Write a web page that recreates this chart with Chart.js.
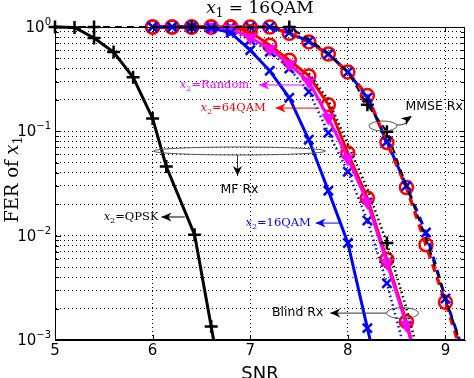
<!DOCTYPE html>
<html>
<head>
<meta charset="utf-8">
<script src="https://cdn.jsdelivr.net/npm/chart.js@4.4.1/dist/chart.umd.min.js"></script>
<style>
	html, body { margin: 0; padding: 0; background: #fff; }
	canvas { display: block; }
</style>
</head>
<body>
<canvas id="graficoFer" width="474" height="378"></canvas>
<script>
// SNR grid shared by most curves
const snr = [5.0, 5.2, 5.4, 5.6, 5.8, 6.0, 6.2, 6.4, 6.6, 6.8, 7.0, 7.2, 7.4, 7.6, 7.8, 8.0, 8.2, 8.4, 8.6, 8.8, 9.0, 9.2]

// MF Rx, x2 = QPSK has its own points
const snrQpskMf = [5.0, 5.2, 5.4, 5.6, 5.8, 6.0, 6.14, 6.43, 6.6, 6.7]
const ferQpskMf = [1, 0.99, 0.785, 0.575, 0.33, 0.133, 0.046, 0.0102, 0.00135, 0.0004]

const ferQpskMmse = [1, 1, 1, 1, 1, 1, 1, 1, 1, 1, 1, 1, 1, 0.76, 0.56, 0.37, 0.18, 0.099, 0.03, 0.0095, 0.0025, 0.0007]
const ferQam16Mmse = [null, null, null, null, null, 1, 1, 1, 1, 1, 1, 1, 0.88, 0.73, 0.55, 0.37, 0.21, 0.08, 0.03, 0.0107, 0.0025, 0.0007]
const ferQam64Mmse = [null, null, null, null, null, 1, 1, 1, 1, 1, 1, 1, 0.87, 0.72, 0.55, 0.37, 0.22, 0.078, 0.029, 0.0082, 0.0023, 0.0006]
const ferQam16Mf = [null, null, null, null, null, 1, 1, 1, 0.98, 0.88, 0.6, 0.38, 0.21, 0.083, 0.027, 0.0085, 0.0013, 0.0002, null, null, null, null]
const ferQam64Mf = [null, null, null, null, null, 1, 1, 1, 1, 1, 0.9, 0.67, 0.48, 0.34, 0.18, 0.062, 0.023, 0.0059, 0.0015, 0.0003, null, null]
const ferRandomMf = [null, null, null, null, null, null, null, null, 1, 0.96, 0.79, 0.62, 0.44, 0.3, 0.135, 0.055, 0.021, 0.0055, 0.0014, 0.0003, null, null]
const ferQam16Blind = [null, null, null, null, null, null, null, 1, 0.99, 0.93, 0.75, 0.58, 0.4, 0.24, 0.097, 0.041, 0.014, 0.0035, 0.0007, null, null, null]
const ferQpskBlind = [null, null, null, null, null, null, null, null, null, null, null, null, null, 0.36, 0.2, 0.075, 0.028, 0.0085, 0.002, 0.0004, null, null]

// axis ticks
const snrTicks = [5, 6, 7, 8, 9]
const ferDecades = [1, 0.1, 0.01, 0.001]

// marker indices for the curves that only show a few markers
const marcasQpskMmse = [2, 7, 12, 16, 17]
const marcasQpskBlind = [17]

function pontos(xs, ys) {
	return xs.map((x, i) => ({ x: x, y: ys[i] }))
}

function serie(fer, xs, cor, dash, largura, forma, raio, marcas) {
	return {
		data: pontos(xs, fer),
		borderColor: cor,
		backgroundColor: "rgba(0,0,0,0)",
		borderWidth: largura,
		borderDash: dash,
		pointStyle: forma,
		pointRadius: marcas ? (c) => (marcas.includes(c.dataIndex) ? raio : 0) : raio,
		pointBorderColor: cor,
		pointBackgroundColor: "rgba(0,0,0,0)",
		pointBorderWidth: 2.5,
		tension: 0,
		clip: { left: 10, top: 10, right: 0, bottom: 0 },
	}
}

var dataSets = [
	serie(ferQpskMf, snrQpskMf, "#000", [], 3, "cross", 6.5),
	serie(ferQpskMmse, snr, "#000", [7, 5], 2, "cross", 6.5, marcasQpskMmse),
	serie(ferQam16Mf, snr, "#0000ff", [], 3, "crossRot", 6.5),
	serie(ferQpskBlind, snr, "#000", [1.5, 3], 2.5, "cross", 6.5, marcasQpskBlind),
	serie(ferRandomMf, snr, "#ff00ff", [], 3, "triangle", 5.5),
	serie(ferQam16Blind, snr, "#0000ff", [1.5, 3], 2.5, "crossRot", 6.5),
	serie(ferQam64Mf, snr, "#ff0000", [], 3, "circle", 6.5),
	serie(ferQam16Mmse, snr, "#0000ff", [8, 6], 3, "crossRot", 6.5),
	serie(ferQam64Mmse, snr, "#ff0000", [8, 6], 3.5, "circle", 6.5),
]
dataSets[4].pointBackgroundColor = "rgba(255,0,255,0.55)"
dataSets[4].pointRotation = 180
dataSets[7].borderDashOffset = 7

// annotations in data units (SNR, FER)
const notas = [
	{ partes: [["x", "i"], ["2", "s"], ["=Random", ""]], cor: "#ff00ff", x: 6.99, y: 0.278, de: 7.56, ate: 7.09 },
	{ partes: [["x", "i"], ["2", "s"], ["=64QAM", ""]], cor: "#ff0000", x: 7.16, y: 0.167, de: 7.71, ate: 7.26 },
	{ partes: [["x", "i"], ["2", "s"], ["=QPSK", ""]], cor: "#000", x: 6.06, y: 0.0151, de: 6.33, ate: 6.09 },
	{ partes: [["x", "i"], ["2", "s"], ["=16QAM", ""]], cor: "#0000ff", x: 7.62, y: 0.0132, de: 7.92, ate: 7.67 },
]

function medeTexto(ctx, partes, tam) {
	let w = 0
	for (const p of partes) {
		ctx.font = fonteParte(p[1], tam)
		w += ctx.measureText(p[0]).width
	}
	return w
}

function fonteParte(tipo, tam) {
	if (tipo == "i") return "italic " + tam + "px 'DejaVu Serif'"
	if (tipo == "s") return Math.round(tam * 0.7) + "px 'DejaVu Serif'"
	return tam + "px 'DejaVu Serif'"
}

function escreve(ctx, partes, x, y, tam, cor, alinha) {
	let w = medeTexto(ctx, partes, tam)
	let cx = alinha == "right" ? x - w : alinha == "center" ? x - w / 2 : x
	ctx.fillStyle = cor
	ctx.textBaseline = "middle"
	ctx.textAlign = "left"
	for (const p of partes) {
		ctx.font = fonteParte(p[1], tam)
		ctx.fillText(p[0], cx, p[1] == "s" ? y + tam * 0.3 : y)
		cx += ctx.measureText(p[0]).width
	}
}

function cabeca(ctx, x, y, ang, cor) {
	ctx.save()
	ctx.translate(x, y)
	ctx.rotate(ang)
	ctx.fillStyle = cor
	ctx.beginPath()
	ctx.moveTo(0, 0)
	ctx.lineTo(-10, -4.5)
	ctx.lineTo(-7, 0)
	ctx.lineTo(-10, 4.5)
	ctx.closePath()
	ctx.fill()
	ctx.restore()
}

function seta(ctx, x1, y1, x2, y2, cor, corLinha) {
	ctx.strokeStyle = corLinha || cor
	ctx.lineWidth = 1
	ctx.beginPath()
	ctx.moveTo(x1, y1)
	ctx.lineTo(x2, y2)
	ctx.stroke()
	cabeca(ctx, x2, y2, Math.atan2(y2 - y1, x2 - x1), cor)
}

function elipse(ctx, x, y, rx, ry) {
	ctx.strokeStyle = "#555"
	ctx.lineWidth = 1
	ctx.beginPath()
	ctx.ellipse(x, y, rx, ry, 0, 0, Math.PI * 2)
	ctx.stroke()
}

const enfeites = {
	id: "enfeites",
	afterDatasetsDraw(chart) {
		const ctx = chart.ctx
		const a = chart.chartArea
		const sx = chart.scales.x
		const sy = chart.scales.y
		ctx.save()

		// frame and inner ticks, matlab style
		ctx.strokeStyle = "#000"
		ctx.lineWidth = 1
		ctx.strokeRect(a.left + 0.5, a.top + 0.5, a.right - a.left - 1, a.bottom - a.top - 1)
		ctx.beginPath()
		for (const t of sy.ticks) {
			let py = Math.round(sy.getPixelForValue(t.value)) + 0.5
			let len = ferDecades.includes(t.value) ? 6 : 4
			ctx.moveTo(a.left, py)
			ctx.lineTo(a.left + len, py)
			ctx.moveTo(a.right, py)
			ctx.lineTo(a.right - len, py)
		}
		for (const v of snrTicks) {
			let px = Math.round(sx.getPixelForValue(v)) + 0.5
			ctx.moveTo(px, a.bottom)
			ctx.lineTo(px, a.bottom - 5)
			ctx.moveTo(px, a.top)
			ctx.lineTo(px, a.top + 5)
		}
		ctx.stroke()

		// y tick labels 10^k
		ctx.fillStyle = "#000"
		ctx.textBaseline = "alphabetic"
		for (const v of ferDecades) {
			let py = sy.getPixelForValue(v)
			let k = Math.round(Math.log10(v))
			let exp = k == 0 ? "0" : "\u2212" + -k
			ctx.font = "10px 'DejaVu Sans'"
			let we = ctx.measureText(exp).width
			ctx.textAlign = "right"
			ctx.fillText(exp, 51, py - 2)
			ctx.font = "15px 'DejaVu Sans'"
			ctx.fillText("10", 51 - we, py + 5)
		}

		// labelled arrows
		for (const n of notas) {
			let py = sy.getPixelForValue(n.y)
			escreve(ctx, n.partes, sx.getPixelForValue(n.x), py, 11.5, n.cor, "right")
			seta(ctx, sx.getPixelForValue(n.de), py, sx.getPixelForValue(n.ate), py, n.cor)
		}

		// MF Rx group
		let mx = sx.getPixelForValue(6.89)
		let my = sy.getPixelForValue(0.0648)
		elipse(ctx, mx, my, 86, 4)
		seta(ctx, mx - 2, my + 4, mx - 2, sy.getPixelForValue(0.0373), "#000", "#333")
		ctx.font = "12.5px 'DejaVu Sans'"
		ctx.fillStyle = "#000"
		ctx.textAlign = "center"
		ctx.textBaseline = "middle"
		ctx.fillText("MF Rx", mx, sy.getPixelForValue(0.0274))

		// MMSE Rx group
		let ex = sx.getPixelForValue(8.36)
		let ey = sy.getPixelForValue(0.1125)
		elipse(ctx, ex, ey, 14, 5)
		let tx = sx.getPixelForValue(8.65)
		let ty = sy.getPixelForValue(0.14)
		ctx.strokeStyle = "#333"
		ctx.beginPath()
		ctx.moveTo(ex + 14, ey - 1)
		ctx.quadraticCurveTo(tx - 4, ey, tx, ty)
		ctx.stroke()
		cabeca(ctx, tx, ty, -Math.PI / 5, "#000")
		ctx.fillStyle = "#000"
		ctx.textAlign = "left"
		ctx.fillText("MMSE Rx", sx.getPixelForValue(8.59), sy.getPixelForValue(0.171))

		// Blind Rx group
		let bx = sx.getPixelForValue(8.56)
		let by = sy.getPixelForValue(0.00181)
		elipse(ctx, bx, by, 16, 5.5)
		seta(ctx, bx - 16, by, sx.getPixelForValue(7.82), by, "#000", "#333")
		ctx.fillStyle = "#000"
		ctx.textAlign = "right"
		ctx.fillText("Blind Rx", sx.getPixelForValue(7.75), by)

		// title and axis labels
		escreve(ctx, [["x", "i"], ["1", "s"], [" = 16QAM", ""]], (a.left + a.right) / 2, 9, 17, "#000", "center")
		ctx.font = "18px 'DejaVu Sans'"
		ctx.fillStyle = "#000"
		ctx.textAlign = "center"
		ctx.textBaseline = "top"
		ctx.fillText("SNR", (a.left + a.right) / 2, 365)
		ctx.translate(13, (a.top + a.bottom) / 2 - 4)
		ctx.rotate(-Math.PI / 2)
		escreve(ctx, [["FER of ", ""], ["x", "i"], ["1", "s"]], 0, 0, 18, "#000", "center")
		ctx.restore()
	},
}

Chart.defaults.font.family = "'DejaVu Sans'"
Chart.defaults.color = "#000"

var grafico = new Chart(document.getElementById("graficoFer"), {
	type: "line",
	data: { datasets: dataSets },
	options: {
		responsive: false,
		animation: false,
		devicePixelRatio: 1,
		layout: { padding: { top: 27, right: 1, left: 0, bottom: 0 } },
		plugins: { legend: { display: false }, tooltip: { enabled: false }, title: { display: false } },
		scales: {
			x: {
				type: "linear",
				min: 5,
				max: 9.2,
				afterBuildTicks: (s) => {
					s.ticks = snrTicks.map((v) => ({ value: v }))
				},
				afterFit: (s) => {
					s.height = 38
				},
				ticks: { font: { size: 15 }, color: "#000", padding: 2, maxRotation: 0 },
				grid: { color: "#000", lineWidth: 1, drawTicks: false },
				border: { color: "#000", dash: [1, 3] },
			},
			y: {
				type: "logarithmic",
				min: 0.001,
				max: 1,
				afterBuildTicks: (s) => {
					let t = []
					for (let e = -3; e < 0; e++) {
						for (let m = 1; m < 10; m++) t.push({ value: +(m * Math.pow(10, e)).toPrecision(3) })
					}
					t.push({ value: 1 })
					s.ticks = t
				},
				afterFit: (s) => {
					s.width = 55
				},
				ticks: { display: false },
				grid: { color: "#000", lineWidth: 1, drawTicks: false },
				border: { color: "#000", dash: [1, 3] },
			},
		},
	},
	plugins: [enfeites],
})
</script>
</body>
</html>
